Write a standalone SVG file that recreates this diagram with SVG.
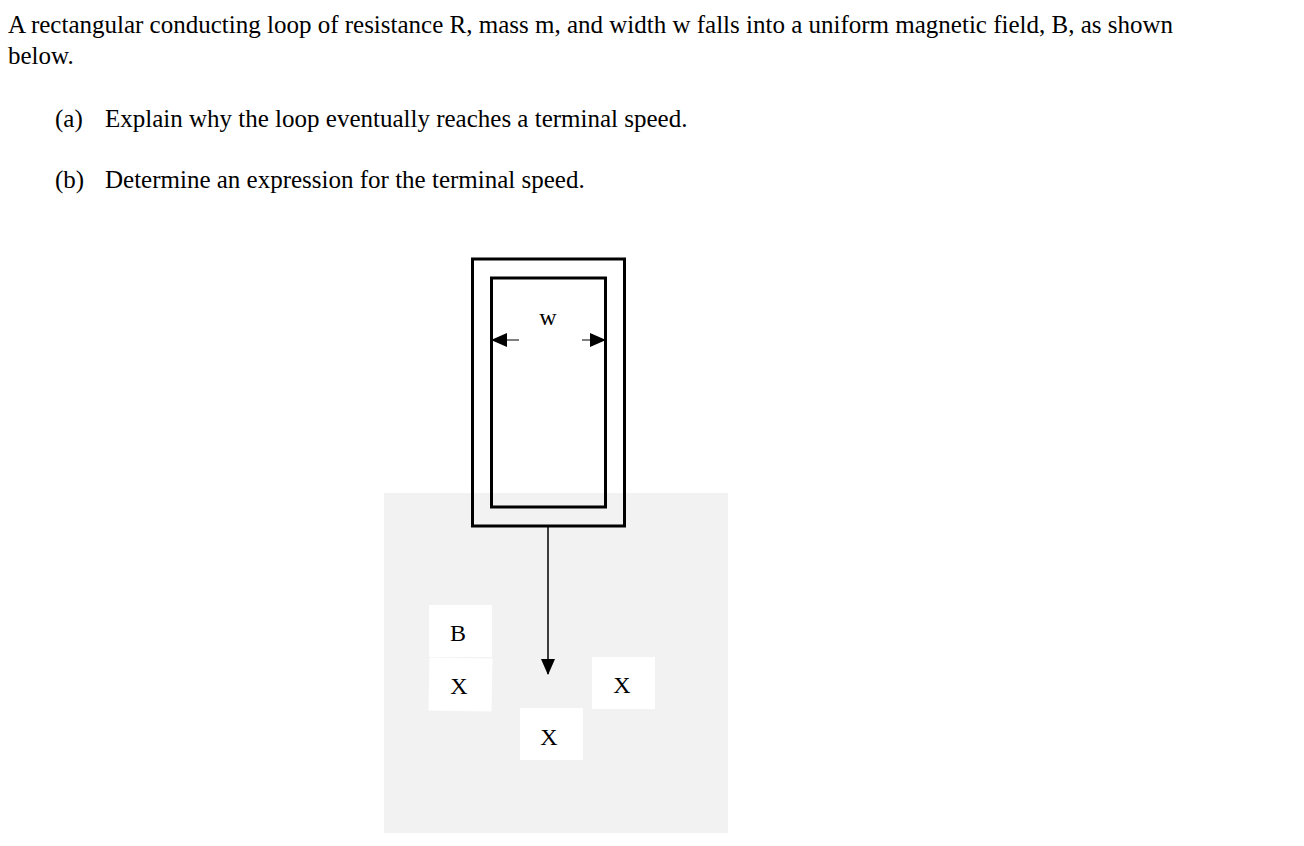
<svg xmlns="http://www.w3.org/2000/svg" width="1304" height="846" viewBox="0 0 1304 846">
<style>
text{font-family:"Liberation Serif","Times New Roman",serif;font-size:25px;fill:#000}
.lbl{font-size:24px;text-anchor:middle}
.box{fill:#fff}
.wire{fill:none;stroke:#000;stroke-width:3}
</style>
<defs>
<marker id="ah" markerWidth="10" markerHeight="10" refX="9" refY="5" orient="auto" markerUnits="userSpaceOnUse" viewBox="0 0 10 10"><path d="M0,0L10,5L0,10z" fill="#000"/></marker>
<marker id="ahb" markerWidth="16" markerHeight="16" refX="15" refY="8" orient="auto" markerUnits="userSpaceOnUse" viewBox="0 0 16 16"><path d="M0,1L16,8L0,15z" fill="#000"/></marker>
</defs>
<rect width="1304" height="846" fill="#fff"/>
<text x="8" y="33">A rectangular conducting loop of resistance R, mass m, and width w falls into a uniform magnetic field, B, as shown</text>
<text x="8" y="64">below.</text>
<text x="55" y="127">(a)</text><text x="105" y="127">Explain why the loop eventually reaches a terminal speed.</text>
<text x="55" y="188">(b)</text><text x="105" y="188">Determine an expression for the terminal speed.</text>
<g id="field"><rect x="384" y="493" width="344" height="340" fill="#f2f2f2"/></g>
<g id="loop">
<rect class="wire" x="472.5" y="259" width="152" height="267"/>
<rect class="wire" x="491.5" y="278" width="114" height="229"/>
</g>
<g id="width-label"><text class="lbl" x="548" y="325">w</text></g>
<g id="connectors">
<line x1="519" y1="340" x2="492" y2="340" stroke="#000" stroke-width="1" marker-end="url(#ahb)"/>
<line x1="582" y1="340" x2="605" y2="340" stroke="#000" stroke-width="1" marker-end="url(#ahb)"/>
<line x1="548" y1="527" x2="548" y2="674" stroke="#000" stroke-width="1.5" marker-end="url(#ahb)"/>
</g>
<g id="B"><rect class="box" x="429" y="605" width="63" height="52"/><text class="lbl" x="458" y="641">B</text></g>
<g id="X1"><rect class="box" x="429" y="658" width="63" height="53" transform="rotate(1 460 684)"/><text class="lbl" x="459" y="694">X</text></g>
<g id="X2"><rect class="box" x="592" y="657" width="63" height="52"/><text class="lbl" x="622" y="693">X</text></g>
<g id="X3"><rect class="box" x="520" y="708" width="63" height="52"/><text class="lbl" x="549" y="745">X</text></g>
</svg>
